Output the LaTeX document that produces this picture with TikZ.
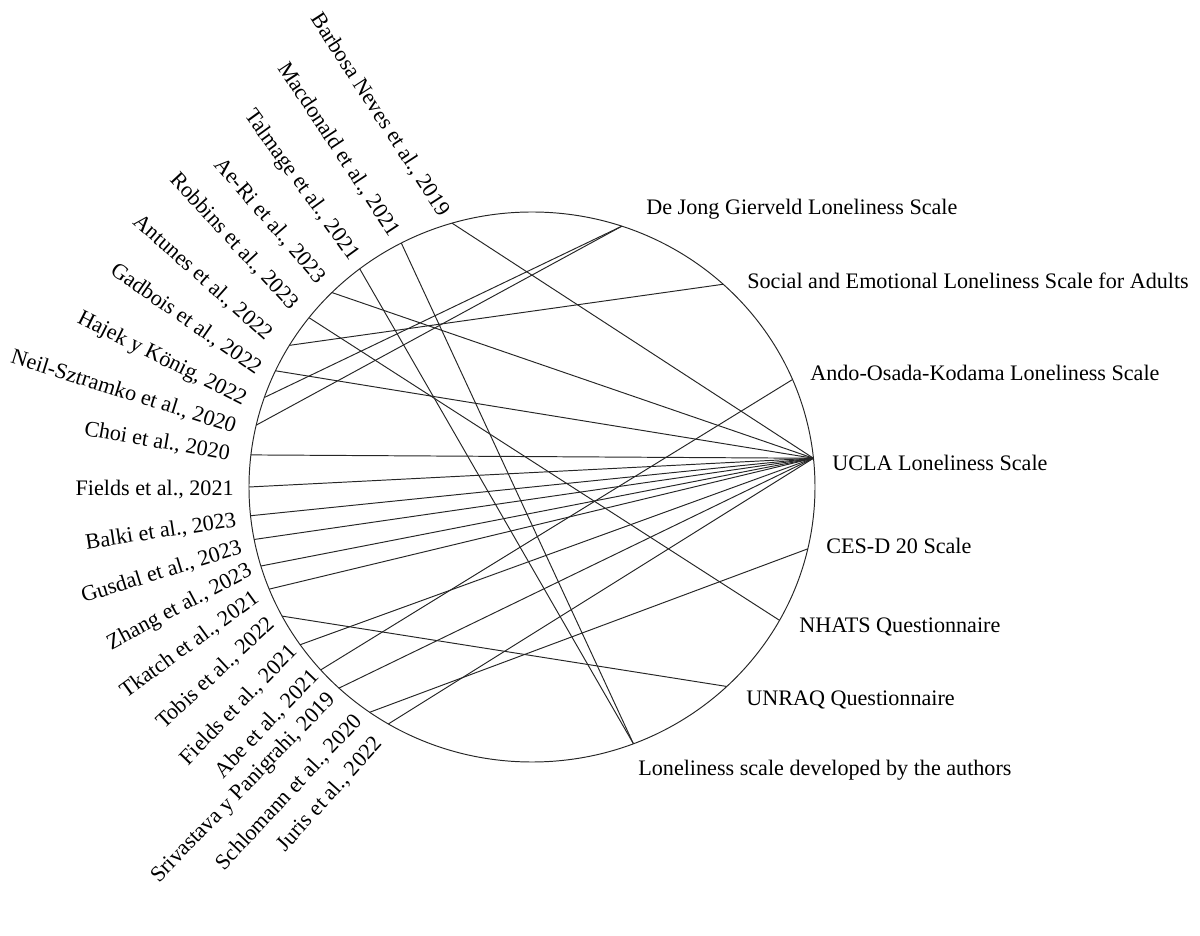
\documentclass[tikz,border=0pt]{standalone}
\usepackage{fontspec}
\setmainfont{Liberation Serif}
\usepackage{tikz}

\tikzset{
  chord/.style={line width=0.55pt, black!85},
  studylbl/.style={font=\fontsize{12.6}{15}\selectfont, inner sep=0pt, text height=8.4pt, text depth=0pt, anchor=east},
  scalelbl/.style={font=\fontsize{12.6}{15}\selectfont, inner sep=0pt, text height=8.4pt, text depth=0pt, anchor=west}
}

\begin{document}
\begin{tikzpicture}[x=0.02cm, y=0.02cm]
\useasboundingbox (-532,-449) rectangle (668,487);
\draw[chord] (0,0) ellipse [x radius=283, y radius=275]; % ring

% studies
\coordinate (barbosa) at (106.4:283 and 275);
\coordinate (macdonald) at (117.5:283 and 275);
\coordinate (talmage) at (127.5:283 and 275);
\coordinate (aeri) at (135:283 and 275);
\coordinate (robbins) at (142:283 and 275);
\coordinate (antunes) at (149:283 and 275);
\coordinate (gadbois) at (155:283 and 275);
\coordinate (hajek) at (161:283 and 275);
\coordinate (neil) at (167:283 and 275);
\coordinate (choi) at (173.3:283 and 275);
\coordinate (fieldsa) at (180:283 and 275);
\coordinate (balki) at (186:283 and 275);
\coordinate (gusdal) at (191:283 and 275);
\coordinate (zhang) at (196.7:283 and 275);
\coordinate (tkatch) at (201.8:283 and 275);
\coordinate (tobis) at (208:283 and 275);
\coordinate (fieldsb) at (215:283 and 275);
\coordinate (abe) at (221.7:283 and 275);
\coordinate (srivastava) at (227:283 and 275);
\coordinate (schlomann) at (235:283 and 275);
\coordinate (juris) at (239.5:283 and 275);

% scales
\coordinate (djg) at (71.5:283 and 275);
\coordinate (sel) at (47.5:283 and 275);
\coordinate (aok) at (23:283 and 275);
\coordinate (ucla) at (6:283 and 275);
\coordinate (cesd) at (-13:283 and 275);
\coordinate (nhats) at (-29:283 and 275);
\coordinate (unraq) at (-46.5:283 and 275);
\coordinate (lsd) at (-69:283 and 275);

\node[studylbl, rotate=-57] (barbosa-l) at (-86,273) {Barbosa Neves et al., 2019};
\node[studylbl, rotate=-56.5] (macdonald-l) at (-136,253) {Macdonald et al., 2021};
\node[studylbl, rotate=-54] (talmage-l) at (-176,230) {Talmage et al., 2021};
\node[studylbl, rotate=-49] (aeri-l) at (-209,207) {Ae-Ri et al., 2023};
\node[studylbl, rotate=-47] (robbins-l) at (-236,181) {Robbins et al., 2023};
\node[studylbl, rotate=-41.6] (antunes-l) at (-262,151) {Antunes et al., 2022};
\node[studylbl, rotate=-34.7] (gadbois-l) at (-272,118) {Gadbois et al., 2022};
\node[studylbl, rotate=-26.6] (hajek-l) at (-286,88) {Hajek y König, 2022};
\node[studylbl, rotate=-17.4] (neil-l) at (-296,61) {Neil-Sztramko et al., 2020};
\node[studylbl, rotate=-9.8] (choi-l) at (-302,34) {Choi et al., 2020};
\node[studylbl] (fieldsa-l) at (-298,-1) {Fields et al., 2021};
\node[studylbl, rotate=8.7] (balki-l) at (-296,-32) {Balki et al., 2023};
\node[studylbl, rotate=17.4] (gusdal-l) at (-291,-59) {Gusdal et al., 2023};
\node[studylbl, rotate=28] (zhang-l) at (-282,-81) {Zhang et al., 2023};
\node[studylbl, rotate=36] (tkatch-l) at (-276,-108) {Tkatch et al., 2021};
\node[studylbl, rotate=43] (tobis-l) at (-261,-133) {Tobis et al., 2022};
\node[studylbl, rotate=46] (fieldsb-l) at (-239,-160) {Fields et al., 2021};
\node[studylbl, rotate=46.4] (abe-l) at (-217,-185) {Abe et al., 2021};
\node[studylbl, rotate=46] (srivastava-l) at (-201,-208) {Srivastava y Panigrahi, 2019};
\node[studylbl, rotate=47] (schlomann-l) at (-174,-230) {Schlomann et al., 2020};
\node[studylbl, rotate=48] (juris-l) at (-154,-252) {Juris et al., 2022};

\node[scalelbl] (djg-l) at (114,280) {De Jong Gierveld Loneliness Scale};
\node[scalelbl] (sel-l) at (215,206) {Social and Emotional Loneliness Scale for Adults};
\node[scalelbl] (aok-l) at (278,114) {Ando-Osada-Kodama Loneliness Scale};
\node[scalelbl] (ucla-l) at (300,24) {UCLA Loneliness Scale};
\node[scalelbl] (cesd-l) at (294,-59) {CES-D 20 Scale};
\node[scalelbl] (nhats-l) at (267,-138) {NHATS Questionnaire};
\node[scalelbl] (unraq-l) at (214,-211) {UNRAQ Questionnaire};
\node[scalelbl] (lsd-l) at (106,-281) {Loneliness scale developed by the authors};

\draw[chord] (barbosa) -- (ucla);
\draw[chord] (macdonald) -- (lsd);
\draw[chord] (talmage) -- (lsd);
\draw[chord] (aeri) -- (ucla);
\draw[chord] (robbins) -- (nhats);
\draw[chord] (antunes) -- (sel);
\draw[chord] (gadbois) -- (ucla);
\draw[chord] (hajek) -- (djg);
\draw[chord] (neil) -- (djg);
\draw[chord] (choi) -- (ucla);
\draw[chord] (fieldsa) -- (ucla);
\draw[chord] (balki) -- (ucla);
\draw[chord] (gusdal) -- (ucla);
\draw[chord] (zhang) -- (ucla);
\draw[chord] (tkatch) -- (ucla);
\draw[chord] (tobis) -- (unraq);
\draw[chord] (fieldsb) -- (ucla);
\draw[chord] (abe) -- (aok);
\draw[chord] (srivastava) -- (ucla);
\draw[chord] (schlomann) -- (cesd);
\draw[chord] (juris) -- (ucla);
\end{tikzpicture}
\end{document}
